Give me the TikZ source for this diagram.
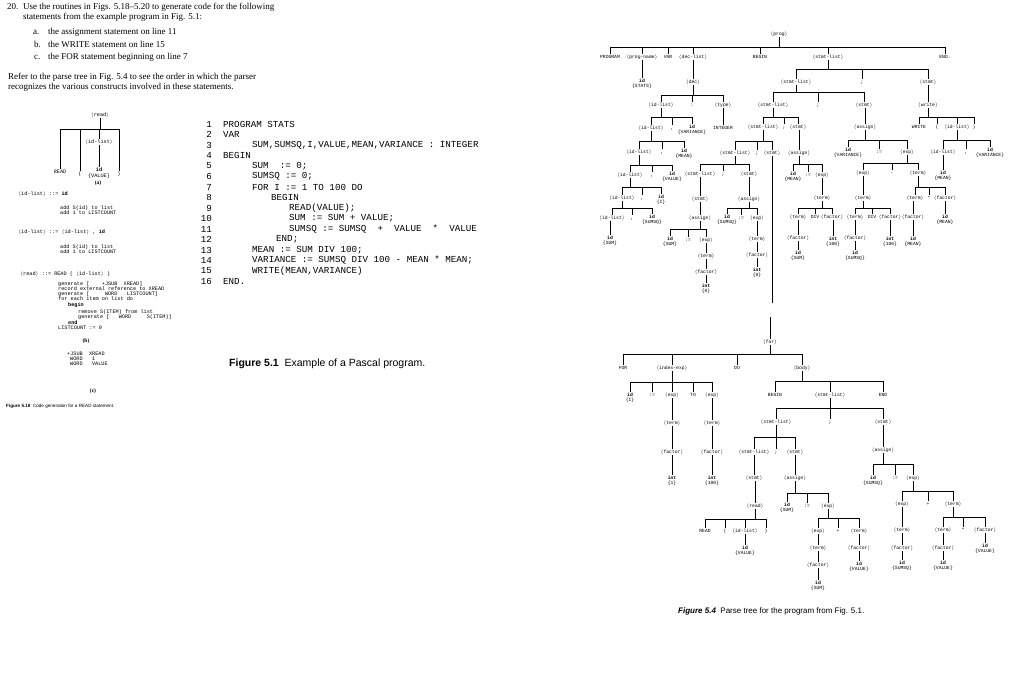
\documentclass[tikz,border=0pt]{standalone}
\usepackage{fontspec}
\setmainfont{Liberation Serif}
\setsansfont{Liberation Sans}
\newfontfamily\monof{Liberation Mono}
\newcommand\tf{\monof\fontsize{4.7}{5.3}\selectfont}
\newcommand\lf{\monof\fontsize{5.2}{5.4}\selectfont}
\newcommand\A[1]{$\langle$#1$\rangle$}
\newcommand\idv[1]{\textbf{id}\\\{#1\}}
\newcommand\intv[1]{\textbf{int}\\\{#1\}}
\newcommand\fan[3]{%
  \draw[tl] (#1.south) -- (#1.south |- 0,#2);
  \foreach \c in {#3}{\draw[tl] (#1.south |- 0,#2) -- (\c.north |- 0,#2) -- (\c.north);}}
\newcommand\one[2]{\draw[tl] (#2.north |- #1.south) -- (#2.north);}
\tikzset{
  tl/.style={line width=0.75pt, line cap=rect},
  tn/.style={font=\tf, inner sep=0.3pt, outer sep=0.8pt, text height=3.4pt, text depth=1.1pt},
  tid/.style={font=\tf, inner sep=0.3pt, outer sep=0.8pt, align=center},
  qtext/.style={anchor=west, inner sep=0pt, font=\fontsize{9}{10}\selectfont},
  code/.style={anchor=west, inner sep=0pt, font=\monof\fontsize{9.2}{10}\selectfont},
  num/.style={anchor=east, inner sep=0pt, font=\monof\fontsize{9.2}{10}\selectfont},
  rl/.style={anchor=west, inner sep=0pt, font=\lf},
  rn/.style={font=\lf, inner sep=0.3pt, outer sep=0.8pt, text height=3.6pt, text depth=1.2pt},
  rid/.style={font=\lf, inner sep=0.3pt, outer sep=0.8pt, align=center},
  sub/.style={font=\fontsize{5.5}{6}\selectfont\bfseries, inner sep=0pt}
}
\begin{document}
\begin{tikzpicture}[x=1pt,y=-1pt]
\useasboundingbox (0,0) rectangle (1024,677);
\fill[white] (0,0) rectangle (1024,677);

% ---------------- question text ----------------
\node[qtext] (q0) at (7,7) {20.};
\node[qtext] (q1) at (23,7) {Use the routines in Figs. 5.18--5.20 to generate code for the following};
\node[qtext] (q2) at (23,17) {statements from the example program in Fig. 5.1:};
\node[qtext] (qa) at (33,32) {a.};
\node[qtext] (qat) at (48,32) {the assignment statement on line 11};
\node[qtext] (qb) at (34,44) {b.};
\node[qtext] (qbt) at (48,44) {the WRITE statement on line 15};
\node[qtext] (qc) at (34,57) {c.};
\node[qtext] (qct) at (48,57) {the FOR statement beginning on line 7};
\node[qtext] (q3) at (8,77) {Refer to the parse tree in Fig. 5.4 to see the order in which the parser};
\node[qtext] (q4) at (8,87) {recognizes the various constructs involved in these statements.};

% ---------------- Figure 5.18 ----------------
\begin{scope}[tl/.style={line width=1pt, line cap=rect}]
\node[rn] (rd) at (100,115) {\A{read}};
\node[rn] (rdREAD) at (60,172) {READ};
\node[rn] (rdlp) at (80,174) {(};
\node[rn] (rdil) at (99,142) {\A{id-list}};
\node[rn] (rdrp) at (119,174) {)};
\fan{rd}{129}{rdREAD,rdlp,rdil,rdrp}
\node[rid] (rdid) at (99,173) {\idv{VALUE}};
\one{rdil}{rdid}
\end{scope}
\node[sub] (suba) at (98,183) {(a)};
\node[rl] (r1) at (18,194) {\A{id-list} ::= \textbf{id}};
\node[rl] (r2) at (60,208) {add S(id) to list};
\node[rl] (r3) at (60,213) {add 1 to LISTCOUNT};
\node[rl] (r4) at (18,232) {\A{id-list} ::= \A{id-list} , \textbf{id}};
\node[rl] (r5) at (60,247) {add S(id) to list};
\node[rl] (r6) at (60,252) {add 1 to LISTCOUNT};
\node[rl] (r7) at (20,274) {\A{read} ::= READ ( \A{id-list} )};
\node[rl] (r8) at (58,284) {generate [~~~~+JSUB~~XREAD]};
\node[rl] (r9) at (58,289) {record external reference to XREAD};
\node[rl] (r10) at (58,294) {generate [~~~~~WORD~~~LISTCOUNT]};
\node[rl] (r11) at (58,299) {for each item on list do};
\node[rl] (r12) at (68,305) {\textbf{begin}};
\node[rl] (r13) at (78,312) {remove S(ITEM) from list};
\node[rl] (r14) at (78,317) {generate [~~~WORD~~~~~S(ITEM)]};
\node[rl] (r15) at (68,323) {\textbf{end}};
\node[rl] (r16) at (58,328) {LISTCOUNT := 0};
\node[sub] (subb) at (86,341) {(b)};
\node[rl] (r17) at (67,354) {+JSUB~~XREAD};
\node[rl] (r18) at (70,359) {WORD~~~1};
\node[rl] (r19) at (70,364) {WORD~~~VALUE};
\node[sub] (subc) at (93,391) {(c)};
\node[anchor=west, inner sep=0pt, font=\sffamily\fontsize{4.6}{5}\selectfont] (cap518) at (6,406) {\textbf{Figure 5.18}\ \ Code generation for a READ statement.};

% ---------------- Figure 5.1 listing ----------------
\foreach \n/\x/\t in {1/223/{PROGRAM STATS},2/223/{VAR},3/252/{SUM,SUMSQ,I,VALUE,MEAN,VARIANCE : INTEGER},4/223/{BEGIN},5/252/{SUM~~:= 0;},6/252/{SUMSQ := 0;},7/252/{FOR I := 1 TO 100 DO},8/271/{BEGIN},9/289/{READ(VALUE);},10/289/{SUM := SUM + VALUE;},11/289/{SUMSQ := SUMSQ~~+~~VALUE~~*~~VALUE},12/276/{END;},13/252/{MEAN := SUM DIV 100;},14/252/{VARIANCE := SUMSQ DIV 100 - MEAN * MEAN;},15/252/{WRITE(MEAN,VARIANCE)},16/223/{END.}}{
  \node[num] (ln\n) at (212,{124+(\n-1)*10.5}) {\n};
  \node[code] (lt\n) at (\x,{124+(\n-1)*10.5}) {\t};
}
\node[anchor=west, inner sep=0pt, font=\sffamily\fontsize{10.5}{12}\selectfont] (cap51) at (229,364) {\textbf{Figure 5.1}\ \ Example of a Pascal program.};

% ---------------- Parse tree (top) ----------------
\node[tn] (prog) at (779,34) {\A{prog}};
\node[tn] (pPROG) at (610,57) {PROGRAM};
\node[tn] (pname) at (642,57) {\A{prog-name}};
\node[tn] (pVAR) at (668,57) {VAR};
\node[tn] (pdec) at (693,57) {\A{dec-list}};
\node[tn] (pBEG) at (760,57) {BEGIN};
\node[tn] (s0) at (828,57) {\A{stmt-list}};
\node[tn] (pEND) at (945,57) {END.};
\fan{prog}{47}{pPROG,pname,pVAR,pdec,pBEG,s0,pEND}
\node[tid] (pid) at (642,84) {\idv{STATS}}; \one{pname}{pid}
\node[tn] (dec) at (693,82) {\A{dec}}; \one{pdec}{dec}
\node[tn] (i1) at (661,105) {\A{id-list}};
\node[tn] (dcol) at (692,105) {:};
\node[tn] (type) at (723,105) {\A{type}};
\fan{dec}{95}{i1,dcol,type}
\node[tn] (integer) at (723,128) {INTEGER}; \one{type}{integer}
\node[tn] (i2) at (651,128) {\A{id-list}};
\node[tn] (ic1) at (672,128) {,};
\node[tid] (iVAR) at (692,130) {\idv{VARIANCE}};
\fan{i1}{117}{i2,ic1,iVAR}
\node[tn] (i3) at (639,152) {\A{id-list}};
\node[tn] (ic2) at (662,152) {,};
\node[tid] (iMEAN) at (684,154) {\idv{MEAN}};
\fan{i2}{141}{i3,ic2,iMEAN}
\node[tn] (i4) at (630,175) {\A{id-list}};
\node[tn] (ic3) at (652,175) {,};
\node[tid] (iVAL) at (672,177) {\idv{VALUE}};
\fan{i3}{165}{i4,ic3,iVAL}
\node[tn] (i5) at (622,198) {\A{id-list}};
\node[tn] (ic4) at (642,198) {,};
\node[tid] (iI) at (661,200) {\idv{I}};
\fan{i4}{187}{i5,ic4,iI}
\node[tn] (i6) at (612,218) {\A{id-list}};
\node[tn] (ic5) at (632,218) {,};
\node[tid] (iSQ) at (652,220) {\idv{SUMSQ}};
\fan{i5}{208}{i6,ic5,iSQ}
\node[tid] (iSUM) at (610,241) {\idv{SUM}}; \one{i6}{iSUM}

\node[tn] (s1) at (796,82) {\A{stmt-list}};
\node[tn] (sc1) at (862,82) {;};
\node[tn] (st1) at (928,82) {\A{stmt}};
\fan{s0}{69}{s1,sc1,st1}
\node[tn] (write) at (928,105) {\A{write}}; \one{st1}{write}
\node[tn] (wW) at (919,127) {WRITE};
\node[tn] (wlp) at (937,127) {(};
\node[tn] (wil) at (957,127) {\A{id-list}};
\node[tn] (wrp) at (974,127) {)};
\fan{write}{117}{wW,wlp,wil,wrp}
\node[tn] (wi2) at (943,152) {\A{id-list}};
\node[tn] (wc) at (966,152) {,};
\node[tid] (wVAR) at (990,153) {\idv{VARIANCE}};
\fan{wil}{140}{wi2,wc,wVAR}
\node[tid] (wMEAN) at (943,176) {\idv{MEAN}}; \one{wi2}{wMEAN}

\node[tn] (s2) at (773,105) {\A{stmt-list}};
\node[tn] (sc2) at (818,105) {;};
\node[tn] (st2) at (864,105) {\A{stmt}};
\fan{s1}{92}{s2,sc2,st2}
\node[tn] (as2) at (865,127) {\A{assign}}; \one{st2}{as2}
\node[tid] (aVAR) at (848,153) {\idv{VARIANCE}};
\node[tn] (aeq) at (879,152) {:=};
\node[tn] (e1) at (907,152) {\A{exp}};
\fan{as2}{140}{aVAR,aeq,e1}
\node[tn] (e2) at (863,173) {\A{exp}};
\node[tn] (emin) at (892,173) {-};
\node[tn] (t1) at (918,173) {\A{term}};
\fan{e1}{163}{e2,emin,t1}
\node[tn] (t2) at (863,198) {\A{term}}; \one{e2}{t2}
\node[tn] (t3) at (855,217) {\A{term}};
\node[tn] (tdiv) at (872,217) {DIV};
\node[tn] (f1) at (890,217) {\A{factor}};
\fan{t2}{208}{t3,tdiv,f1}
\node[tn] (f2) at (855,238) {\A{factor}}; \one{t3}{f2}
\node[tid] (fSQ) at (855,256) {\idv{SUMSQ}}; \one{f2}{fSQ}
\node[tid] (f100) at (890,242) {\intv{100}}; \one{f1}{f100}
\node[tn] (t4) at (915,198) {\A{term}};
\node[tn] (tstar) at (929,198) {*};
\node[tn] (f3) at (945,198) {\A{factor}};
\fan{t1}{187}{t4,tstar,f3}
\node[tn] (f4) at (913,217) {\A{factor}}; \one{t4}{f4}
\node[tid] (fM1) at (913,242) {\idv{MEAN}}; \one{f4}{fM1}
\node[tid] (fM2) at (945,220) {\idv{MEAN}}; \one{f3}{fM2}

\node[tn] (s3) at (763,127) {\A{stmt-list}};
\node[tn] (sc3) at (784,127) {;};
\node[tn] (st3) at (798,127) {\A{stmt}};
\fan{s2}{117}{s3,sc3,st3}
\node[tn] (as3) at (799,153) {\A{assign}}; \one{st3}{as3}
\node[tid] (aMEAN) at (793,177) {\idv{MEAN}};
\node[tn] (aeq3) at (808,175) {:=};
\node[tn] (e3) at (822,175) {\A{exp}};
\fan{as3}{164}{aMEAN,aeq3,e3}
\node[tn] (t6) at (822,198) {\A{term}}; \one{e3}{t6}
\node[tn] (t5) at (798,217) {\A{term}};
\node[tn] (tdiv2) at (815,217) {DIV};
\node[tn] (f5) at (832,217) {\A{factor}};
\fan{t6}{208}{t5,tdiv2,f5}
\node[tn] (f6) at (798,238) {\A{factor}}; \one{t5}{f6}
\node[tid] (fSUM) at (798,256) {\idv{SUM}}; \one{f6}{fSUM}
\node[tid] (f100b) at (833,242) {\intv{100}}; \one{f5}{f100b}

\node[tn] (s4) at (735,153) {\A{stmt-list}};
\node[tn] (sc4) at (757,153) {;};
\node[tn] (st4) at (772,153) {\A{stmt}};
\fan{s3}{141}{s4,sc4,st4}
\coordinate (cut1) at (772,303);
\draw[tl] (st4.south) -- (cut1);

\node[tn] (s5) at (700,174) {\A{stmt-list}};
\node[tn] (sc5) at (723,174) {;};
\node[tn] (st5) at (749,174) {\A{stmt}};
\fan{s4}{164}{s5,sc5,st5}
\node[tn] (st6) at (700,199) {\A{stmt}}; \one{s5}{st6}
\node[tn] (as6) at (700,218) {\A{assign}}; \one{st6}{as6}
\node[tid] (aSUM) at (670,242) {\idv{SUM}};
\node[tn] (aeq6) at (688,240) {:=};
\node[tn] (e6) at (706,240) {\A{exp}};
\fan{as6}{229}{aSUM,aeq6,e6}
\node[tn] (t7) at (706,256) {\A{term}}; \one{e6}{t7}
\node[tn] (f7) at (706,272) {\A{factor}}; \one{t7}{f7}
\node[tid] (int0a) at (706,289) {\intv{0}}; \one{f7}{int0a}
\node[tn] (as5) at (749,199) {\A{assign}}; \one{st5}{as5}
\node[tid] (aSQ) at (727,220) {\idv{SUMSQ}};
\node[tn] (aeq5) at (741,218) {:=};
\node[tn] (e5) at (757,218) {\A{exp}};
\fan{as5}{208}{aSQ,aeq5,e5}
\node[tn] (t8) at (757,239) {\A{term}}; \one{e5}{t8}
\node[tn] (f8) at (757,255) {\A{factor}}; \one{t8}{f8}
\node[tid] (int0b) at (757,273) {\intv{0}}; \one{f8}{int0b}

% ---------------- Parse tree (for statement) ----------------
\coordinate (cut2) at (770,317);
\node[tn] (for) at (770,342) {\A{for}};
\draw[tl] (cut2) -- (for.north);
\node[tn] (fFOR) at (623,368) {FOR};
\node[tn] (ie) at (672,368) {\A{index-exp}};
\node[tn] (fDO) at (737,368) {DO};
\node[tn] (body) at (802,368) {\A{body}};
\fan{for}{354}{fFOR,ie,fDO,body}
\node[tid] (fI) at (630,398) {\idv{I}};
\node[tn] (feq) at (652,395) {:=};
\node[tn] (fe1) at (672,395) {\A{exp}};
\node[tn] (fTO) at (693,395) {TO};
\node[tn] (fe2) at (712,395) {\A{exp}};
\fan{ie}{382}{fI,feq,fe1,fTO,fe2}
\node[tn] (ft1) at (672,423) {\A{term}}; \one{fe1}{ft1}
\node[tn] (ff1) at (672,452) {\A{factor}}; \one{ft1}{ff1}
\node[tid] (fint1) at (672,481) {\intv{1}}; \one{ff1}{fint1}
\node[tn] (ft2) at (712,423) {\A{term}}; \one{fe2}{ft2}
\node[tn] (ff2) at (712,452) {\A{factor}}; \one{ft2}{ff2}
\node[tid] (fint2) at (712,481) {\intv{100}}; \one{ff2}{fint2}
\node[tn] (bBEG) at (775,395) {BEGIN};
\node[tn] (b1) at (830,395) {\A{stmt-list}};
\node[tn] (bEND) at (883,395) {END};
\fan{body}{381}{bBEG,b1,bEND}
\node[tn] (b2) at (776,422) {\A{stmt-list}};
\node[tn] (bc1) at (830,422) {;};
\node[tn] (bst) at (883,422) {\A{stmt}};
\fan{b1}{408}{b2,bc1,bst}
\node[tn] (b3) at (754,452) {\A{stmt-list}};
\node[tn] (bc2) at (776,452) {;};
\node[tn] (bst2) at (795,452) {\A{stmt}};
\fan{b2}{437}{b3,bc2,bst2}
\node[tn] (bst3) at (754,478) {\A{stmt}}; \one{b3}{bst3}
\node[tn] (read) at (755,506) {\A{read}}; \one{bst3}{read}
\node[tn] (rREAD) at (705,531) {READ};
\node[tn] (rlp) at (725,531) {(};
\node[tn] (ril) at (745,531) {\A{id-list}};
\node[tn] (rrp) at (766,531) {)};
\fan{read}{519}{rREAD,rlp,ril,rrp}
\node[tid] (rVAL) at (745,551) {\idv{VALUE}}; \one{ril}{rVAL}
\node[tn] (bas) at (795,478) {\A{assign}}; \one{bst2}{bas}
\node[tid] (bSUM) at (787,508) {\idv{SUM}};
\node[tn] (beq) at (807,506) {:=};
\node[tn] (be) at (828,506) {\A{exp}};
\fan{bas}{493}{bSUM,beq,be}
\node[tn] (be2) at (818,531) {\A{exp}};
\node[tn] (bplus) at (838,531) {+};
\node[tn] (bt) at (859,531) {\A{term}};
\fan{be}{518}{be2,bplus,bt}
\node[tn] (bt2) at (818,548) {\A{term}}; \one{be2}{bt2}
\node[tn] (bf2) at (818,565) {\A{factor}}; \one{bt2}{bf2}
\node[tid] (bSUM2) at (818,586) {\idv{SUM}}; \one{bf2}{bSUM2}
\node[tn] (bf) at (859,548) {\A{factor}}; \one{bt}{bf}
\node[tid] (bVAL) at (859,567) {\idv{VALUE}}; \one{bf}{bVAL}
\node[tn] (bas2) at (883,450) {\A{assign}}; \one{bst}{bas2}
\node[tid] (bSQ) at (873,481) {\idv{SUMSQ}};
\node[tn] (beq2) at (895,478) {:=};
\node[tn] (bbe) at (913,478) {\A{exp}};
\fan{bas2}{464}{bSQ,beq2,bbe}
\node[tn] (bbe2) at (902,504) {\A{exp}};
\node[tn] (bplus2) at (928,504) {+};
\node[tn] (bbt) at (953,504) {\A{term}};
\fan{bbe}{491}{bbe2,bplus2,bbt}
\node[tn] (bbt2) at (902,530) {\A{term}}; \one{bbe2}{bbt2}
\node[tn] (bbf2) at (902,548) {\A{factor}}; \one{bbt2}{bbf2}
\node[tid] (bSQ2) at (902,566) {\idv{SUMSQ}}; \one{bbf2}{bSQ2}
\node[tn] (bbt3) at (943,530) {\A{term}};
\node[tn] (bstar) at (963,530) {*};
\node[tn] (bbf) at (985,530) {\A{factor}};
\fan{bbt}{517}{bbt3,bstar,bbf}
\node[tn] (bbf3) at (943,548) {\A{factor}}; \one{bbt3}{bbf3}
\node[tid] (bVAL2) at (943,566) {\idv{VALUE}}; \one{bbf3}{bVAL2}
\node[tid] (bVAL3) at (985,549) {\idv{VALUE}}; \one{bbf}{bVAL3}

\node[anchor=west, inner sep=0pt, font=\sffamily\fontsize{8}{9}\selectfont] (cap54) at (678,611) {\textbf{\textit{Figure 5.4}}\ \ Parse tree for the program from Fig. 5.1.};
\end{tikzpicture}
\end{document}
